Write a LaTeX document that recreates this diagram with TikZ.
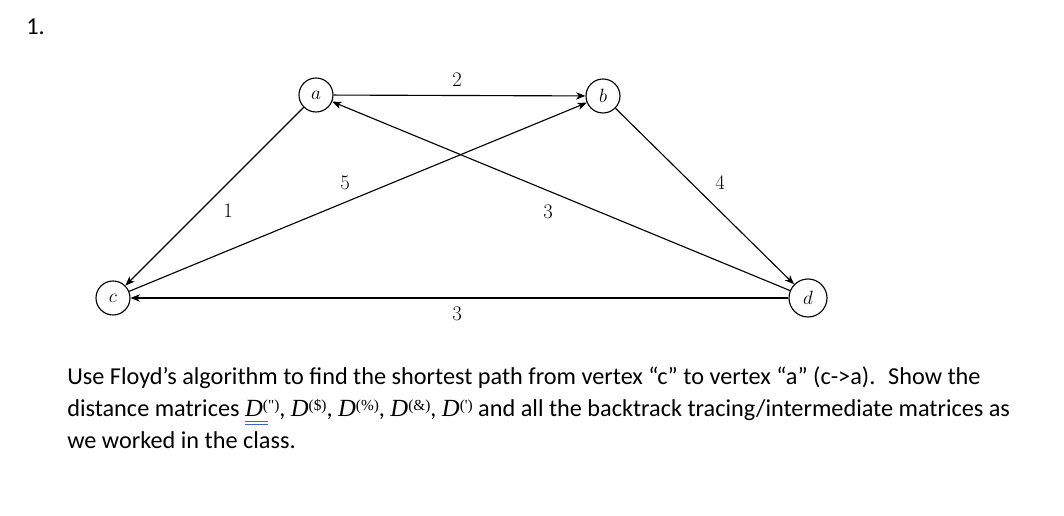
\documentclass[tikz,border=0pt]{standalone}
\usepackage{fontspec}
\usetikzlibrary{arrows.meta}
\newfontfamily\bodyfont{Carlito}
\newfontfamily\mathserif{Liberation Serif}
\newcommand{\Dsup}[1]{{\mathserif\itshape\fontsize{18.5}{20}\selectfont D}\raisebox{0.6ex}{\mathserif\fontsize{11.5}{12}\selectfont(#1)}}
\definecolor{spellblue}{RGB}{60,100,215}
\begin{document}
\begin{tikzpicture}[x=0.75pt,y=-0.75pt,
  vtx/.style={circle,draw,line width=0.85pt,minimum size=25.5pt,inner sep=0pt,font=\fontsize{15.5}{18}\selectfont},
  edge/.style={line width=0.85pt,-{Stealth[length=7pt,width=5.5pt,inset=2pt]}},
  wlab/.style={font=\fontsize{15.5}{18}\selectfont,inner sep=0pt},
  body/.style={font=\bodyfont\fontsize{18.2}{21}\selectfont,inner sep=0pt,anchor=base west}]
\useasboundingbox (0,0) rectangle (1064,516);
\node[body] (num) at (26,35) {1.};
\node[vtx] (a) at (316,95) {$a$};
\node[vtx] (b) at (603,96) {$b$};
\node[vtx] (c) at (113,298) {$c$};
\node[vtx,minimum size=28.5pt] (d) at (808,298) {$d$};
\draw[edge] (a) -- (b);
\draw[edge] (a) -- (c);
\draw[edge] (c) -- (b);
\draw[edge] (d) -- (a);
\draw[edge] (b) -- (d);
\draw[edge] (d) -- (c);
\node[wlab] (l2) at (457,80) {2};
\node[wlab] (l1) at (228,211) {1};
\node[wlab] (l5) at (345,183) {5};
\node[wlab] (l3a) at (548,212) {3};
\node[wlab] (l4) at (720,183) {4};
\node[wlab] (l3b) at (457,314) {3};
\node[body] (t1) at (67,385) {Use Floyd’s algorithm to find the shortest path from vertex “c” to vertex “a” (c->a).~ Show the};
\node[body] (t2) at (67,417) {distance matrices \Dsup{"}, \Dsup{\$}, \Dsup{\%}, \Dsup{\&}, \Dsup{'} and all the backtrack tracing/intermediate matrices as};
\node[body] (t3) at (67,449) {we worked in the class.};
\draw[spellblue,line width=0.9pt] (245,421.5) -- (268,421.5) (245,424.5) -- (268,424.5);
\end{tikzpicture}
\end{document}
